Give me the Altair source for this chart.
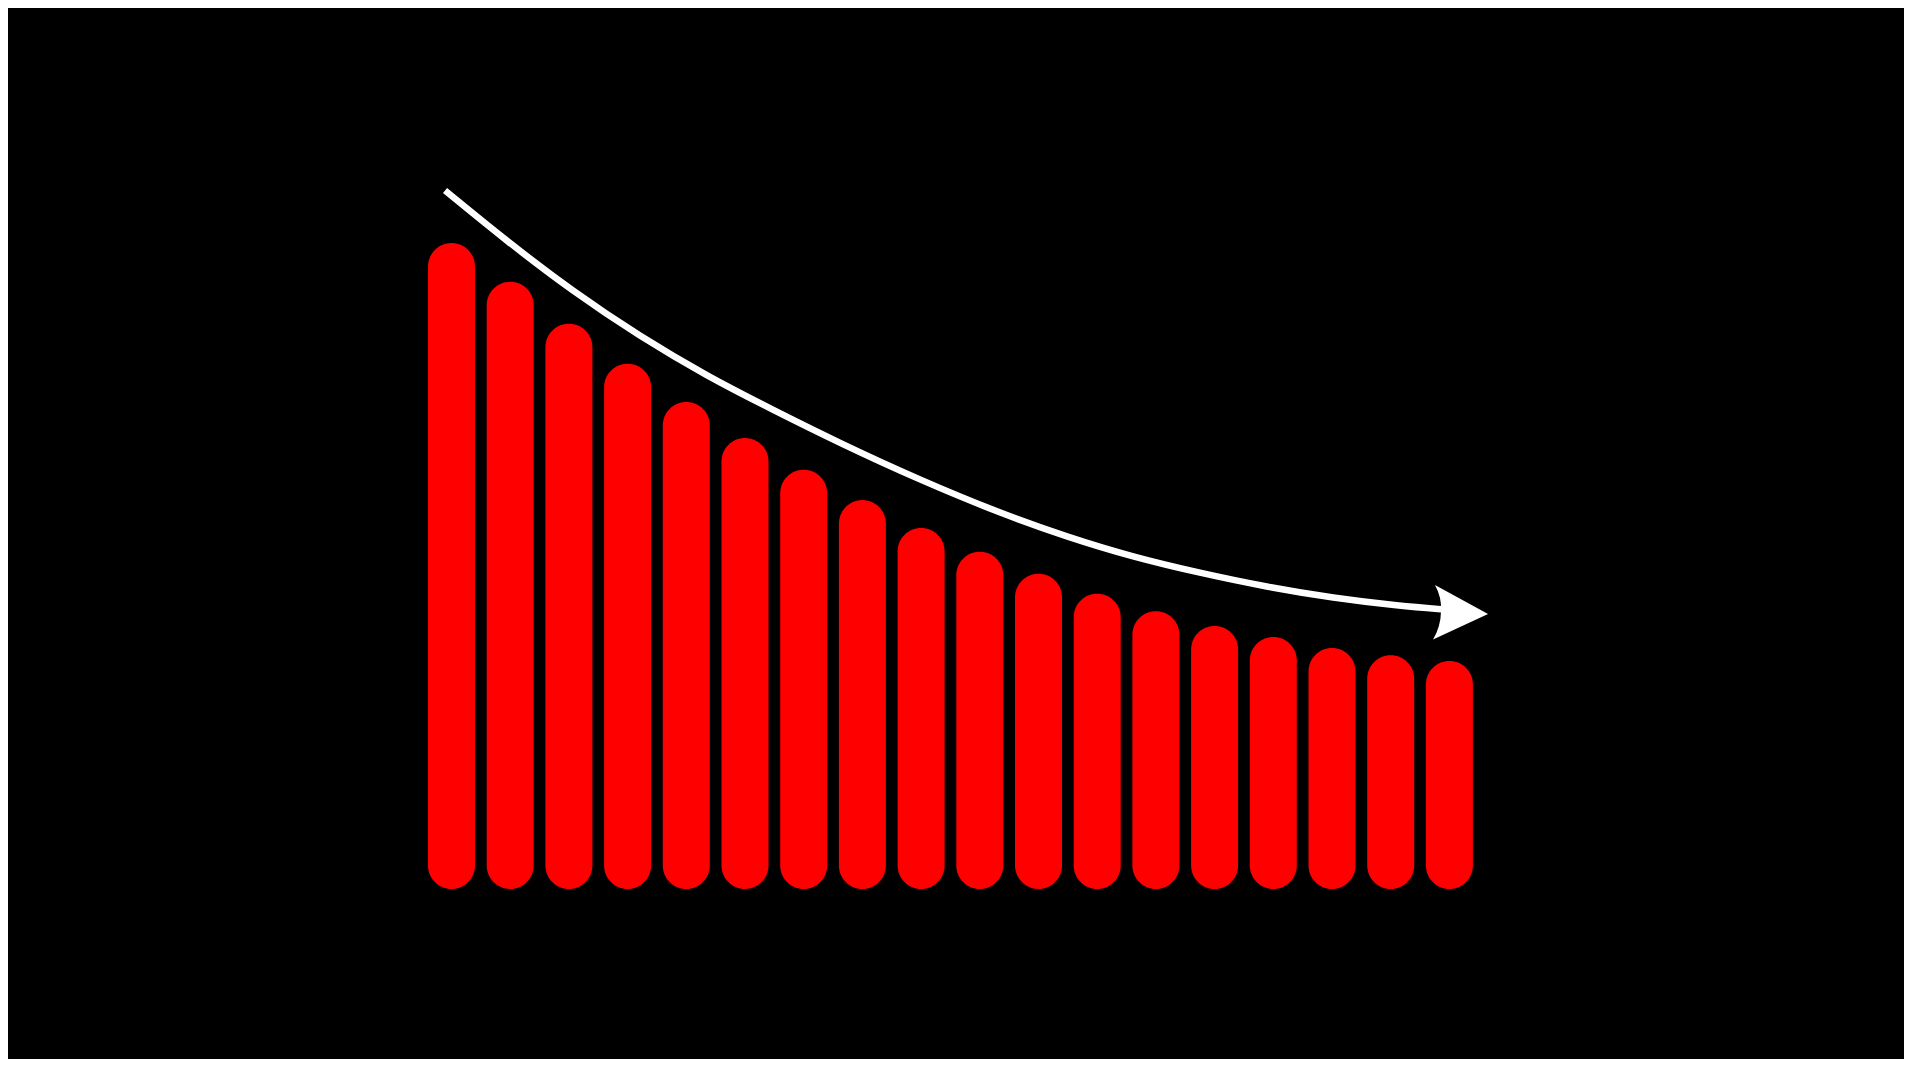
import altair as alt
import pandas as pd

# Bars (index and relative value)
bar_index = list(range(1, 19))
bar_values = [100.0, 94.0, 87.5, 81.3, 75.4, 69.8, 64.9, 60.2, 55.9,
              52.2, 48.8, 45.7, 43.0, 40.7, 39.0, 37.3, 36.2, 35.3]

# Trend arrow path (in the same units as the bars)
trend_x = [0.89, 1.95, 3.07, 4.21, 5.35, 6.48, 7.62, 8.98, 10.34, 11.49,
           12.61, 13.75, 14.89, 16.02, 17.16, 17.93]
trend_y = [108.13, 100.23, 92.49, 85.53, 79.41, 74.15, 69.00, 63.31, 58.20, 54.49,
           51.39, 48.92, 46.75, 45.05, 43.81, 43.27]
arrow_x = [18.19]
arrow_y = [42.8]

bars_df = pd.DataFrame({"i": bar_index, "v": bar_values})
trend_df = pd.DataFrame({"i": trend_x, "v": trend_y})
arrow_df = pd.DataFrame({"i": arrow_x, "v": arrow_y})

xs = alt.Scale(domain=[0.5, 18.5], nice=False, zero=False, padding=0)
ys = alt.Scale(domain=[0, 110], nice=False, zero=False, padding=0)

bars = alt.Chart(bars_df).mark_bar(
    size=47, cornerRadius=23.5, color="#ff0000"
).encode(
    x=alt.X("i:Q", scale=xs, axis=None),
    y=alt.Y("v:Q", scale=ys, axis=None, stack=None),
)

trend = alt.Chart(trend_df).mark_line(
    color="white", strokeWidth=6.5, interpolate="basis", strokeCap="butt"
).encode(
    x=alt.X("i:Q", scale=xs, axis=None),
    y=alt.Y("v:Q", scale=ys, axis=None),
)

head_path = "M 1 0.05 L -0.93 -1 Q -0.68 -0.55 -0.71 -0.05 Q -0.72 0.5 -1 0.98 Z"
head = alt.Chart(arrow_df).mark_point(
    shape=head_path, size=3025, filled=True, color="white", opacity=1, strokeWidth=0
).encode(
    x=alt.X("i:Q", scale=xs, axis=None),
    y=alt.Y("v:Q", scale=ys, axis=None),
)

chart = alt.layer(bars, trend, head).properties(
    width=1056.6,
    height=710.6,
    padding={"left": 414.15, "top": 170.4, "right": 425, "bottom": 170},
    autosize=alt.AutoSizeParams(type="none"),
    background="#000000",
).configure_view(stroke=None)

chart.save("out.html", embed_options={"renderer": "svg", "actions": False})
